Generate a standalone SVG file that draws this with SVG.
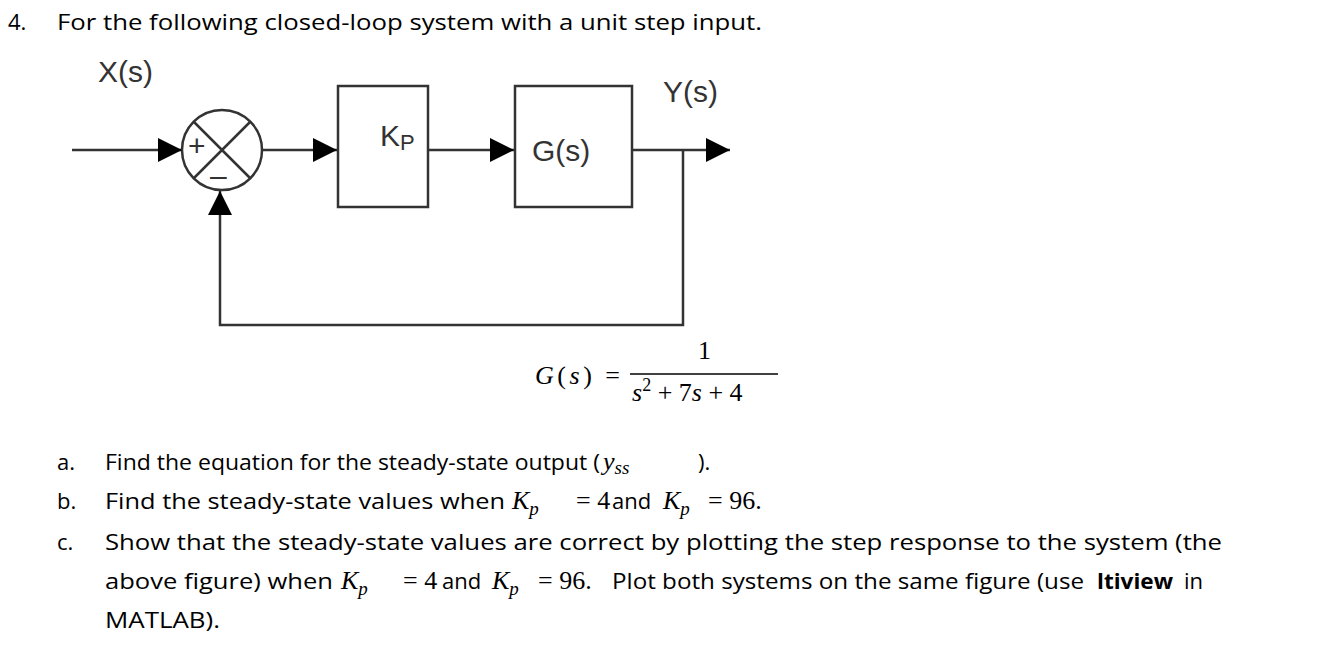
<svg xmlns="http://www.w3.org/2000/svg" width="1328" height="648" viewBox="0 0 1328 648">
<style>
.t{font-family:"Open Sans","Liberation Sans",Arial,sans-serif;font-size:22px;fill:#000}
.m{font-family:"Liberation Serif","Times New Roman",serif;font-size:26px;fill:#000}
.i{font-style:italic}
.d{font-family:"Liberation Sans",Arial,sans-serif;font-size:30px;fill:#333}
.ln{stroke:#333;stroke-width:2.5;fill:none}
.bx{stroke:#333;stroke-width:2.5;fill:#fff}
</style>
<defs>
<marker id="A" viewBox="0 0 10 10" refX="10" refY="5" markerWidth="24" markerHeight="24" orient="auto" markerUnits="userSpaceOnUse"><path d="M0,0L10,5L0,10z" fill="#000"/></marker></defs>
<rect width="1328" height="648" fill="#fff"/>
<text class="t" x="8" y="30">4.</text>
<text class="t" x="57" y="30" textLength="705" lengthAdjust="spacingAndGlyphs">For the following closed-loop system with a unit step input.</text>
<g id="sum"><circle cx="222" cy="150" r="40" class="bx"/><path class="ln" d="M194,122L250,178M250,122L194,178" stroke-width="2"/><text class="d" x="188" y="156" font-size="22">+</text><text class="d" x="210" y="186" font-size="26">–</text></g>
<g id="kp"><rect class="bx" x="338" y="86" width="90" height="121"/><text class="d" x="380" y="146">K<tspan font-size="22" dy="4">P</tspan></text></g>
<g id="gs"><rect class="bx" x="515" y="86" width="117" height="121"/><text class="d" x="532" y="161">G(s)</text></g>
<text class="d" x="98" y="82" font-size="32">X(s)</text>
<text class="d" x="663" y="102" font-size="32">Y(s)</text>
<g id="connectors" class="ln">
<path d="M72,150H182" marker-end="url(#A)"/>
<path d="M262,150H337" marker-end="url(#A)"/>
<path d="M428,150H514" marker-end="url(#A)"/>
<path d="M632,150H730" marker-end="url(#A)"/>
<path d="M683,150V325H220V191" marker-end="url(#A)"/>
</g>
<text class="m" x="535" y="384" textLength="85" lengthAdjust="spacing"><tspan class="i">G</tspan>(<tspan class="i">s</tspan>) =</text>
<text class="m" x="698" y="359">1</text>
<line x1="630" y1="374" x2="778" y2="374" stroke="#000" stroke-width="1.3"/>
<text class="m" x="632" y="401"><tspan class="i">s</tspan><tspan font-size="18" dy="-10">2</tspan><tspan dy="10"> + 7</tspan><tspan class="i">s</tspan> + 4</text>
<text class="t" x="57" y="470">a.</text>
<text class="t" x="105" y="470" textLength="495" lengthAdjust="spacingAndGlyphs">Find the equation for the steady-state output (</text>
<text class="m i" x="603" y="470">y<tspan font-size="19" dy="4">ss</tspan></text>
<text class="t" x="698" y="470">).</text>
<text class="t" x="57" y="509">b.</text>
<text class="t" x="105" y="509" textLength="400" lengthAdjust="spacingAndGlyphs">Find the steady-state values when</text>
<text class="m i" x="512" y="509">K<tspan font-size="19" dy="6">p</tspan></text>
<text class="m" x="576" y="509">= 4</text>
<text class="t" x="612" y="509">and</text>
<text class="m i" x="663" y="509">K<tspan font-size="19" dy="6">p</tspan></text>
<text class="m" x="708" y="509">= 96.</text>
<text class="t" x="57" y="550">c.</text>
<text class="t" x="105" y="550" textLength="1117" lengthAdjust="spacingAndGlyphs">Show that the steady-state values are correct by plotting the step response to the system (the</text>
<text class="t" x="105" y="589" textLength="228" lengthAdjust="spacingAndGlyphs">above figure) when</text>
<text class="m i" x="341" y="589">K<tspan font-size="19" dy="6">p</tspan></text>
<text class="m" x="403" y="589">= 4</text>
<text class="t" x="442" y="589">and</text>
<text class="m i" x="492" y="589">K<tspan font-size="19" dy="6">p</tspan></text>
<text class="m" x="538" y="589">= 96.</text>
<text class="t" x="612" y="589" textLength="472" lengthAdjust="spacingAndGlyphs">Plot both systems on the same figure (use</text>
<text class="t" x="1097" y="589" font-weight="bold" textLength="76" lengthAdjust="spacingAndGlyphs">ltiview</text>
<text class="t" x="1184" y="589">in</text>
<text class="t" x="105" y="628" textLength="115" lengthAdjust="spacingAndGlyphs">MATLAB).</text>
</svg>
